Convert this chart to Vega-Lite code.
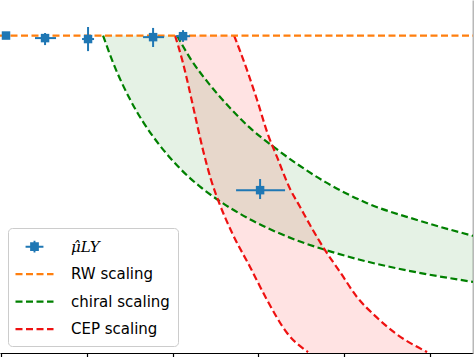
{
  "$schema": "https://vega.github.io/schema/vega-lite/v6.json",
  "width": 473,
  "height": 353,
  "autosize": {"type": "none"},
  "padding": {"left": 0, "top": 0, "right": 1, "bottom": 4},
  "config": {"view": {"stroke": null}},
  "datasets": {
    "green": [
      {"x": 1.189, "y": 1.0, "lo": 1.0},
      {"x": 1.305, "y": 1.0, "lo": 0.915},
      {"x": 1.503, "y": 1.0, "lo": 0.799},
      {"x": 1.655, "y": 1.0, "lo": 0.728},
      {"x": 1.853, "y": 1.0, "lo": 0.653},
      {"x": 2.051, "y": 1.0, "lo": 0.591},
      {"x": 2.086, "y": 0.984, "lo": 0.581},
      {"x": 2.203, "y": 0.929, "lo": 0.551},
      {"x": 2.319, "y": 0.887, "lo": 0.524},
      {"x": 2.436, "y": 0.844, "lo": 0.5},
      {"x": 2.529, "y": 0.815, "lo": 0.482},
      {"x": 2.669, "y": 0.772, "lo": 0.457},
      {"x": 2.867, "y": 0.718, "lo": 0.426},
      {"x": 2.902, "y": 0.709, "lo": 0.421},
      {"x": 3.193, "y": 0.646, "lo": 0.383},
      {"x": 3.485, "y": 0.589, "lo": 0.351},
      {"x": 3.776, "y": 0.539, "lo": 0.325},
      {"x": 4.266, "y": 0.472, "lo": 0.288},
      {"x": 4.848, "y": 0.419, "lo": 0.254},
      {"x": 5.5, "y": 0.369, "lo": 0.224}
    ],
    "red": [
      {"x": 2.028, "y": 1.0, "lo": 1.0},
      {"x": 2.121, "y": 1.0, "lo": 0.913},
      {"x": 2.214, "y": 1.0, "lo": 0.806},
      {"x": 2.273, "y": 1.0, "lo": 0.734},
      {"x": 2.354, "y": 1.0, "lo": 0.639},
      {"x": 2.448, "y": 1.0, "lo": 0.545},
      {"x": 2.552, "y": 1.0, "lo": 0.466},
      {"x": 2.704, "y": 1.0, "lo": 0.372},
      {"x": 2.716, "y": 1.0, "lo": 0.366},
      {"x": 2.867, "y": 0.891, "lo": 0.289},
      {"x": 2.902, "y": 0.863, "lo": 0.271},
      {"x": 2.984, "y": 0.797, "lo": 0.228},
      {"x": 3.1, "y": 0.696, "lo": 0.167},
      {"x": 3.112, "y": 0.687, "lo": 0.162},
      {"x": 3.217, "y": 0.617, "lo": 0.115},
      {"x": 3.333, "y": 0.537, "lo": 0.063},
      {"x": 3.368, "y": 0.517, "lo": 0.054},
      {"x": 3.485, "y": 0.46, "lo": 0.026},
      {"x": 3.578, "y": 0.41, "lo": 0.003},
      {"x": 3.601, "y": 0.403, "lo": 0.0},
      {"x": 3.776, "y": 0.324, "lo": 0.0},
      {"x": 3.951, "y": 0.255, "lo": 0.0},
      {"x": 4.149, "y": 0.176, "lo": 0.0},
      {"x": 4.359, "y": 0.117, "lo": 0.0},
      {"x": 4.592, "y": 0.063, "lo": 0.0},
      {"x": 4.965, "y": 0.003, "lo": 0.0}
    ],
    "curves": [
      {"series": "chiral scaling", "curve": "g1", "x": 1.189, "y": 1.0},
      {"series": "chiral scaling", "curve": "g1", "x": 1.305, "y": 0.915},
      {"series": "chiral scaling", "curve": "g1", "x": 1.503, "y": 0.799},
      {"series": "chiral scaling", "curve": "g1", "x": 1.655, "y": 0.728},
      {"series": "chiral scaling", "curve": "g1", "x": 1.853, "y": 0.653},
      {"series": "chiral scaling", "curve": "g1", "x": 2.086, "y": 0.581},
      {"series": "chiral scaling", "curve": "g1", "x": 2.319, "y": 0.524},
      {"series": "chiral scaling", "curve": "g1", "x": 2.529, "y": 0.482},
      {"series": "chiral scaling", "curve": "g1", "x": 2.867, "y": 0.426},
      {"series": "chiral scaling", "curve": "g1", "x": 3.193, "y": 0.383},
      {"series": "chiral scaling", "curve": "g1", "x": 3.485, "y": 0.351},
      {"series": "chiral scaling", "curve": "g1", "x": 3.776, "y": 0.325},
      {"series": "chiral scaling", "curve": "g1", "x": 4.266, "y": 0.288},
      {"series": "chiral scaling", "curve": "g1", "x": 4.848, "y": 0.254},
      {"series": "chiral scaling", "curve": "g1", "x": 5.5, "y": 0.224},
      {"series": "chiral scaling", "curve": "g2", "x": 2.051, "y": 1.0},
      {"series": "chiral scaling", "curve": "g2", "x": 2.203, "y": 0.929},
      {"series": "chiral scaling", "curve": "g2", "x": 2.436, "y": 0.844},
      {"series": "chiral scaling", "curve": "g2", "x": 2.669, "y": 0.772},
      {"series": "chiral scaling", "curve": "g2", "x": 2.902, "y": 0.709},
      {"series": "chiral scaling", "curve": "g2", "x": 3.193, "y": 0.646},
      {"series": "chiral scaling", "curve": "g2", "x": 3.485, "y": 0.589},
      {"series": "chiral scaling", "curve": "g2", "x": 3.776, "y": 0.539},
      {"series": "chiral scaling", "curve": "g2", "x": 4.266, "y": 0.472},
      {"series": "chiral scaling", "curve": "g2", "x": 4.848, "y": 0.419},
      {"series": "chiral scaling", "curve": "g2", "x": 5.5, "y": 0.369},
      {"series": "CEP scaling", "curve": "r1", "x": 2.028, "y": 1.0},
      {"series": "CEP scaling", "curve": "r1", "x": 2.121, "y": 0.913},
      {"series": "CEP scaling", "curve": "r1", "x": 2.214, "y": 0.806},
      {"series": "CEP scaling", "curve": "r1", "x": 2.273, "y": 0.734},
      {"series": "CEP scaling", "curve": "r1", "x": 2.354, "y": 0.639},
      {"series": "CEP scaling", "curve": "r1", "x": 2.448, "y": 0.545},
      {"series": "CEP scaling", "curve": "r1", "x": 2.552, "y": 0.466},
      {"series": "CEP scaling", "curve": "r1", "x": 2.704, "y": 0.372},
      {"series": "CEP scaling", "curve": "r1", "x": 2.902, "y": 0.271},
      {"series": "CEP scaling", "curve": "r1", "x": 3.1, "y": 0.167},
      {"series": "CEP scaling", "curve": "r1", "x": 3.333, "y": 0.063},
      {"series": "CEP scaling", "curve": "r1", "x": 3.578, "y": 0.003},
      {"series": "CEP scaling", "curve": "r2", "x": 2.716, "y": 1.0},
      {"series": "CEP scaling", "curve": "r2", "x": 2.867, "y": 0.891},
      {"series": "CEP scaling", "curve": "r2", "x": 2.984, "y": 0.797},
      {"series": "CEP scaling", "curve": "r2", "x": 3.112, "y": 0.687},
      {"series": "CEP scaling", "curve": "r2", "x": 3.217, "y": 0.617},
      {"series": "CEP scaling", "curve": "r2", "x": 3.368, "y": 0.517},
      {"series": "CEP scaling", "curve": "r2", "x": 3.485, "y": 0.46},
      {"series": "CEP scaling", "curve": "r2", "x": 3.601, "y": 0.403},
      {"series": "CEP scaling", "curve": "r2", "x": 3.776, "y": 0.324},
      {"series": "CEP scaling", "curve": "r2", "x": 3.951, "y": 0.255},
      {"series": "CEP scaling", "curve": "r2", "x": 4.149, "y": 0.176},
      {"series": "CEP scaling", "curve": "r2", "x": 4.359, "y": 0.117},
      {"series": "CEP scaling", "curve": "r2", "x": 4.592, "y": 0.063},
      {"series": "CEP scaling", "curve": "r2", "x": 4.965, "y": 0.003}
    ],
    "rw": [
      {"series": "RW scaling", "curve": "rw", "x": -0.012, "y": 1.0},
      {"series": "RW scaling", "curve": "rw", "x": 5.5, "y": 1.0}
    ],
    "points": [
      {"series": "mu", "x": 0.058, "y": 1.0, "xlo": 0.058, "xhi": 0.058, "ylo": 1.0, "yhi": 1.0},
      {"series": "mu", "x": 0.513, "y": 0.992, "xlo": 0.396, "xhi": 0.641, "ylo": 0.97, "yhi": 1.008},
      {"series": "mu", "x": 1.014, "y": 0.989, "xlo": 0.944, "xhi": 1.084, "ylo": 0.951, "yhi": 1.027},
      {"series": "mu", "x": 1.772, "y": 0.995, "xlo": 1.655, "xhi": 1.9, "ylo": 0.964, "yhi": 1.024},
      {"series": "mu", "x": 2.121, "y": 0.998, "xlo": 2.04, "xhi": 2.203, "ylo": 0.98, "yhi": 1.017},
      {"series": "mu", "x": 3.019, "y": 0.513, "xlo": 2.739, "xhi": 3.31, "ylo": 0.485, "yhi": 0.548}
    ]
  },
  "encoding": {
    "x": {"field": "x", "type": "quantitative", "title": null,
      "scale": {"domain": [-0.012, 5.5], "nice": false, "zero": false},
      "axis": {"title": null, "values": [0, 1, 2, 3, 4, 5], "labels": false, "grid": false,
        "domainColor": "black", "domainWidth": 1.2, "tickColor": "black", "tickSize": 5, "tickWidth": 1.2}},
    "y": {"field": "y", "type": "quantitative", "title": null,
      "scale": {"domain": [0, 1.112], "nice": false, "zero": false},
      "axis": {"title": null, "orient": "right", "ticks": false, "labels": false, "grid": false,
        "domainColor": "#b8b8b8", "domainWidth": 2}}
  },
  "layer": [
    {
      "data": {"name": "green"},
      "mark": {"type": "area", "color": "#008000", "opacity": 0.1, "interpolate": "monotone", "clip": true},
      "encoding": {"y2": {"field": "lo"}}
    },
    {
      "data": {"name": "red"},
      "mark": {"type": "area", "color": "#ff0000", "opacity": 0.11, "interpolate": "monotone", "clip": true},
      "encoding": {"y2": {"field": "lo"}}
    },
    {
      "data": {"name": "curves"},
      "mark": {"type": "line", "strokeDash": [7, 3.5], "strokeWidth": 2.2, "interpolate": "monotone", "clip": true},
      "encoding": {
        "detail": {"field": "curve"},
        "color": {"field": "series", "type": "nominal",
          "scale": {"domain": ["mu", "RW scaling", "chiral scaling", "CEP scaling"],
                    "range": ["#1f77b4", "#ff7f0e", "#008000", "#ee1111"]},
          "legend": {
            "orient": "none", "legendX": 8, "legendY": 228, "title": null,
            "padding": 8, "fillColor": "rgba(255,255,255,0.8)", "strokeColor": "#cccccc", "cornerRadius": 4,
            "symbolSize": 1444, "symbolStrokeWidth": 2.2, "symbolOffset": -2, "labelOffset": 16, "rowPadding": 8.5,
            "labelFontSize": 15, "labelFont": "DejaVu Sans", "labelColor": "black", "labelLimit": 300,
            "encode": {
              "symbols": {"update": {
                "y": {"value": 10.7},
                "shape": {"signal": "datum.value === 'mu' ? 'M-0.47,-0.05H0.47V0.05H-0.47Z M-0.05,-0.31H0.05V0.31H-0.05Z M-0.23,-0.23H0.23V0.23H-0.23Z' : 'stroke'"},
                "fill": {"signal": "datum.value === 'mu' ? '#1f77b4' : 'transparent'"},
                "stroke": {"signal": "datum.value === 'RW scaling' ? '#ff7f0e' : datum.value === 'chiral scaling' ? '#008000' : datum.value === 'CEP scaling' ? '#ee1111' : '#1f77b4'"},
                "strokeDash": {"signal": "datum.value === 'mu' ? [1, 0] : [7, 3.5]"},
                "strokeOpacity": {"signal": "datum.value === 'mu' ? 0 : 1"},
                "opacity": {"value": 1}
              }},
              "labels": {"update": {
                "y": {"value": 10.7},
                "text": {"signal": "datum.value === 'mu' ? 'μ̂LY' : datum.label"},
                "fontStyle": {"signal": "datum.value === 'mu' ? 'italic' : 'normal'"},
                "font": {"signal": "datum.value === 'mu' ? 'DejaVu Serif' : 'DejaVu Sans'"}
              }}
            }
          }
        }
      }
    },
    {
      "data": {"name": "rw"},
      "mark": {"type": "line", "strokeDash": [7, 3.5], "strokeWidth": 2.2, "clip": true},
      "encoding": {"color": {"field": "series", "type": "nominal"}}
    },
    {
      "data": {"name": "points"},
      "mark": {"type": "rule", "strokeWidth": 2},
      "encoding": {
        "x": {"field": "xlo", "type": "quantitative", "title": null},
        "x2": {"field": "xhi"},
        "color": {"field": "series", "type": "nominal"}
      }
    },
    {
      "data": {"name": "points"},
      "mark": {"type": "rule", "strokeWidth": 2},
      "encoding": {
        "y": {"field": "ylo", "type": "quantitative", "title": null},
        "y2": {"field": "yhi"},
        "color": {"field": "series", "type": "nominal"}
      }
    },
    {
      "data": {"name": "points"},
      "mark": {"type": "square", "filled": true, "size": 72, "opacity": 1},
      "encoding": {"color": {"field": "series", "type": "nominal"}}
    }
  ]
}
